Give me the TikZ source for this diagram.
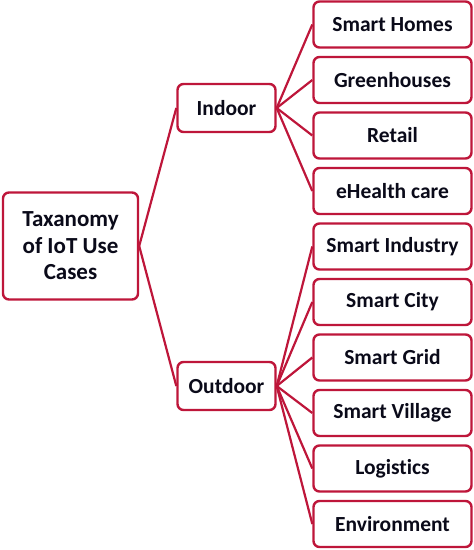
\documentclass[tikz,border=0pt]{standalone}
\usepackage{fontspec}
\setmainfont[Ligatures=NoCommon]{Carlito}
\definecolor{crim}{RGB}{190,22,58}
\definecolor{ink}{RGB}{10,10,25}
\begin{document}
\begin{tikzpicture}[x=1pt,y=-1pt,
  box/.style={draw=crim, line width=2.4pt, rounded corners=6pt, fill=white, align=center,
    text=ink, font=\fontsize{21.5}{25}\selectfont\bfseries, inner sep=0pt},
  leaf/.style={box, minimum width=158pt, minimum height=46pt},
  mid/.style={box, minimum width=98pt, minimum height=48pt},
  conn/.style={draw=crim, line width=2.2pt}]
\useasboundingbox (0,0) rectangle (474,550);
\node[box, minimum width=135pt, minimum height=107pt, font=\fontsize{23}{26.5}\selectfont\bfseries] (root) at (70.5,246) {Taxanomy\\of IoT Use\\Cases};
\node[mid] (in) at (226.5,108) {Indoor};
\node[mid] (out) at (226.5,386) {Outdoor};
\node[leaf] (l1) at (392.5,24.5) {Smart Homes};
\node[leaf] (l2) at (392.5,80) {Greenhouses};
\node[leaf] (l3) at (392.5,135.5) {Retail};
\node[leaf] (l4) at (392.5,191) {eHealth care};
\node[leaf] (l5) at (392.5,246.5) {Smart Industry};
\node[leaf] (l6) at (392.5,302) {Smart City};
\node[leaf] (l7) at (392.5,357.5) {Smart Grid};
\node[leaf] (l8) at (392.5,413) {Smart Village};
\node[leaf] (l9) at (392.5,468.5) {Logistics};
\node[leaf] (l10) at (392.5,524) {Environment};
\draw[conn] (root.east) -- (in.west);
\draw[conn] (root.east) -- (out.west);
\foreach \i in {1,...,4} \draw[conn] (in.east) -- (l\i.west);
\foreach \i in {5,...,10} \draw[conn] (out.east) -- (l\i.west);
\end{tikzpicture}
\end{document}
